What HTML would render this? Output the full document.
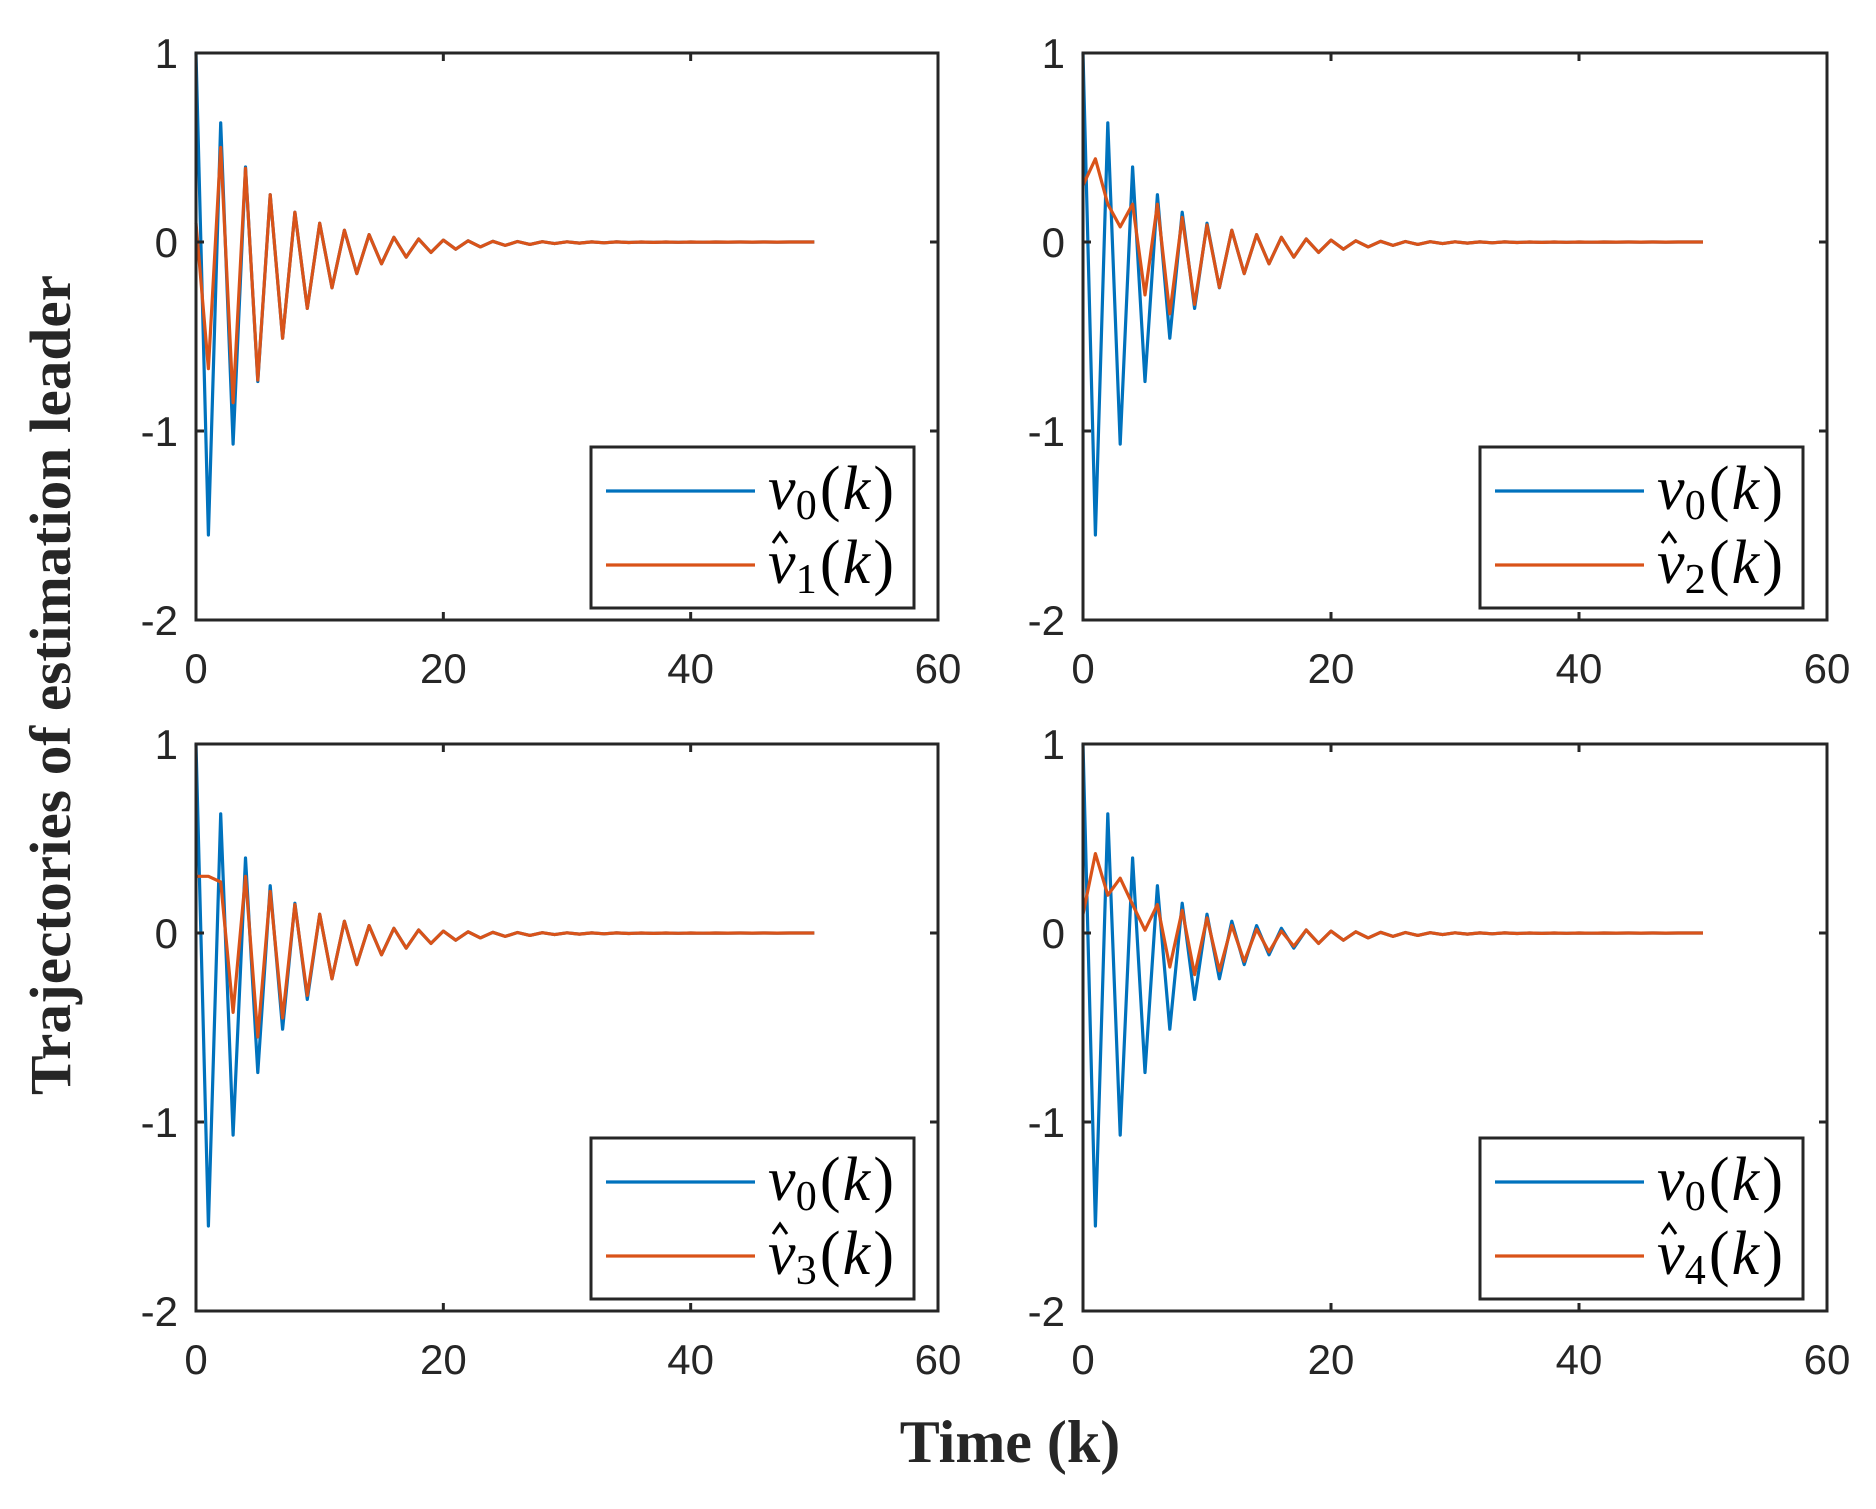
<!DOCTYPE html>
<html><head><meta charset="utf-8"><style>html,body{margin:0;padding:0;background:#fff}svg{display:block}</style></head>
<body>
<svg id="s" width="1876" height="1509" xmlns="http://www.w3.org/2000/svg" font-family="Liberation Sans, sans-serif"></svg>
<script>
const s=document.getElementById('s');
let h='';
const v0=[];
for(let k=0;k<=50;k++){ if(k%2==0) v0.push(Math.pow(0.63,k/2)); else v0.push(-1.55*Math.pow(0.69,(k-1)/2)); }
function mk(pre){const a=v0.slice(); pre.forEach((v,i)=>a[i]=v); return a;}
const est=[
 mk([0.1,-0.67,0.5,-0.85,0.39,-0.73]),
 mk([0.3,0.44,0.2,0.08,0.2,-0.28,0.2,-0.38,0.13,-0.33,0.09,-0.24]),
 mk([0.3,0.3,0.27,-0.42,0.3,-0.55,0.22,-0.45,0.15,-0.33]),
 mk([0.1,0.42,0.2,0.29,0.15,0.015,0.15,-0.18,0.12,-0.22,0.08,-0.2,0.04,-0.15,0.02,-0.10,0.01,-0.07])
];
const axes=[[196,938,53,620],[1083,1827,53,620],[196,938,744,1311],[1083,1827,744,1311]];
axes.forEach((ax,i)=>{
 const [L,R,T,B]=ax;
 const X=x=>L+(x/60)*(R-L), Y=y=>T+(1-y)/3*(B-T);
 const pts=a=>a.map((v,k)=>X(k).toFixed(1)+','+Y(v).toFixed(1)).join(' ');
 h+=`<polyline points="${pts(v0)}" fill="none" stroke="#0072BD" stroke-width="3.2" stroke-linejoin="round"/>`;
 h+=`<polyline points="${pts(est[i])}" fill="none" stroke="#D95319" stroke-width="3.2" stroke-linejoin="round"/>`;
 h+=`<rect x="${L}" y="${T}" width="${R-L}" height="${B-T}" fill="none" stroke="#262626" stroke-width="3"/>`;
 [0,20,40,60].forEach(t=>{const x=X(t);
  h+=`<line x1="${x}" y1="${B}" x2="${x}" y2="${B-8}" stroke="#262626" stroke-width="3"/><line x1="${x}" y1="${T}" x2="${x}" y2="${T+8}" stroke="#262626" stroke-width="3"/>`;
  h+=`<text x="${x}" y="${B+63}" font-size="42" fill="#262626" text-anchor="middle">${t}</text>`;});
 [1,0,-1,-2].forEach(t=>{const y=Y(t);
  h+=`<line x1="${L}" y1="${y}" x2="${L+8}" y2="${y}" stroke="#262626" stroke-width="3"/><line x1="${R}" y1="${y}" x2="${R-8}" y2="${y}" stroke="#262626" stroke-width="3"/>`;
  h+=`<text x="${L-18}" y="${y+15}" font-size="42" fill="#262626" text-anchor="end">${t}</text>`;});
 const lx=R-347, ly=T+394;
 h+=`<rect x="${lx}" y="${ly}" width="323" height="161" fill="#fff" stroke="#262626" stroke-width="3"/>`;
 h+=`<line x1="${lx+15}" y1="${ly+44}" x2="${lx+164}" y2="${ly+44}" stroke="#0072BD" stroke-width="3.2"/>`;
 h+=`<line x1="${lx+15}" y1="${ly+118}" x2="${lx+164}" y2="${ly+118}" stroke="#D95319" stroke-width="3.2"/>`;
 const lab=(y,sub,hat)=>`<text x="${lx+177}" y="${y}" font-family="Liberation Serif, serif" font-size="62" fill="#000" textLength="126" lengthAdjust="spacing"><tspan font-style="italic">v</tspan><tspan font-size="42" dy="10">${sub}</tspan><tspan dy="-10" dx="3">(</tspan><tspan font-style="italic" dx="2">k</tspan><tspan dx="3">)</tspan></text>`+(hat?`<polyline points="${lx+182},${y-40} ${lx+189},${y-50} ${lx+196},${y-40}" fill="none" stroke="#000" stroke-width="3"/>`:'');
 h+=lab(ly+62,'0',false);
 h+=lab(ly+136,String(i+1),true);
});
h+=`<text x="1010" y="1462" font-family="Liberation Serif, serif" font-weight="bold" font-size="60" fill="#262626" text-anchor="middle">Time (k)</text>`;
h+=`<text transform="translate(70,685) rotate(-90)" x="0" y="0" font-family="Liberation Serif, serif" font-weight="bold" font-size="58" fill="#262626" text-anchor="middle" textLength="820" lengthAdjust="spacingAndGlyphs">Trajectories of estimation leader</text>`;
s.innerHTML=h;
</script>
</body></html>
